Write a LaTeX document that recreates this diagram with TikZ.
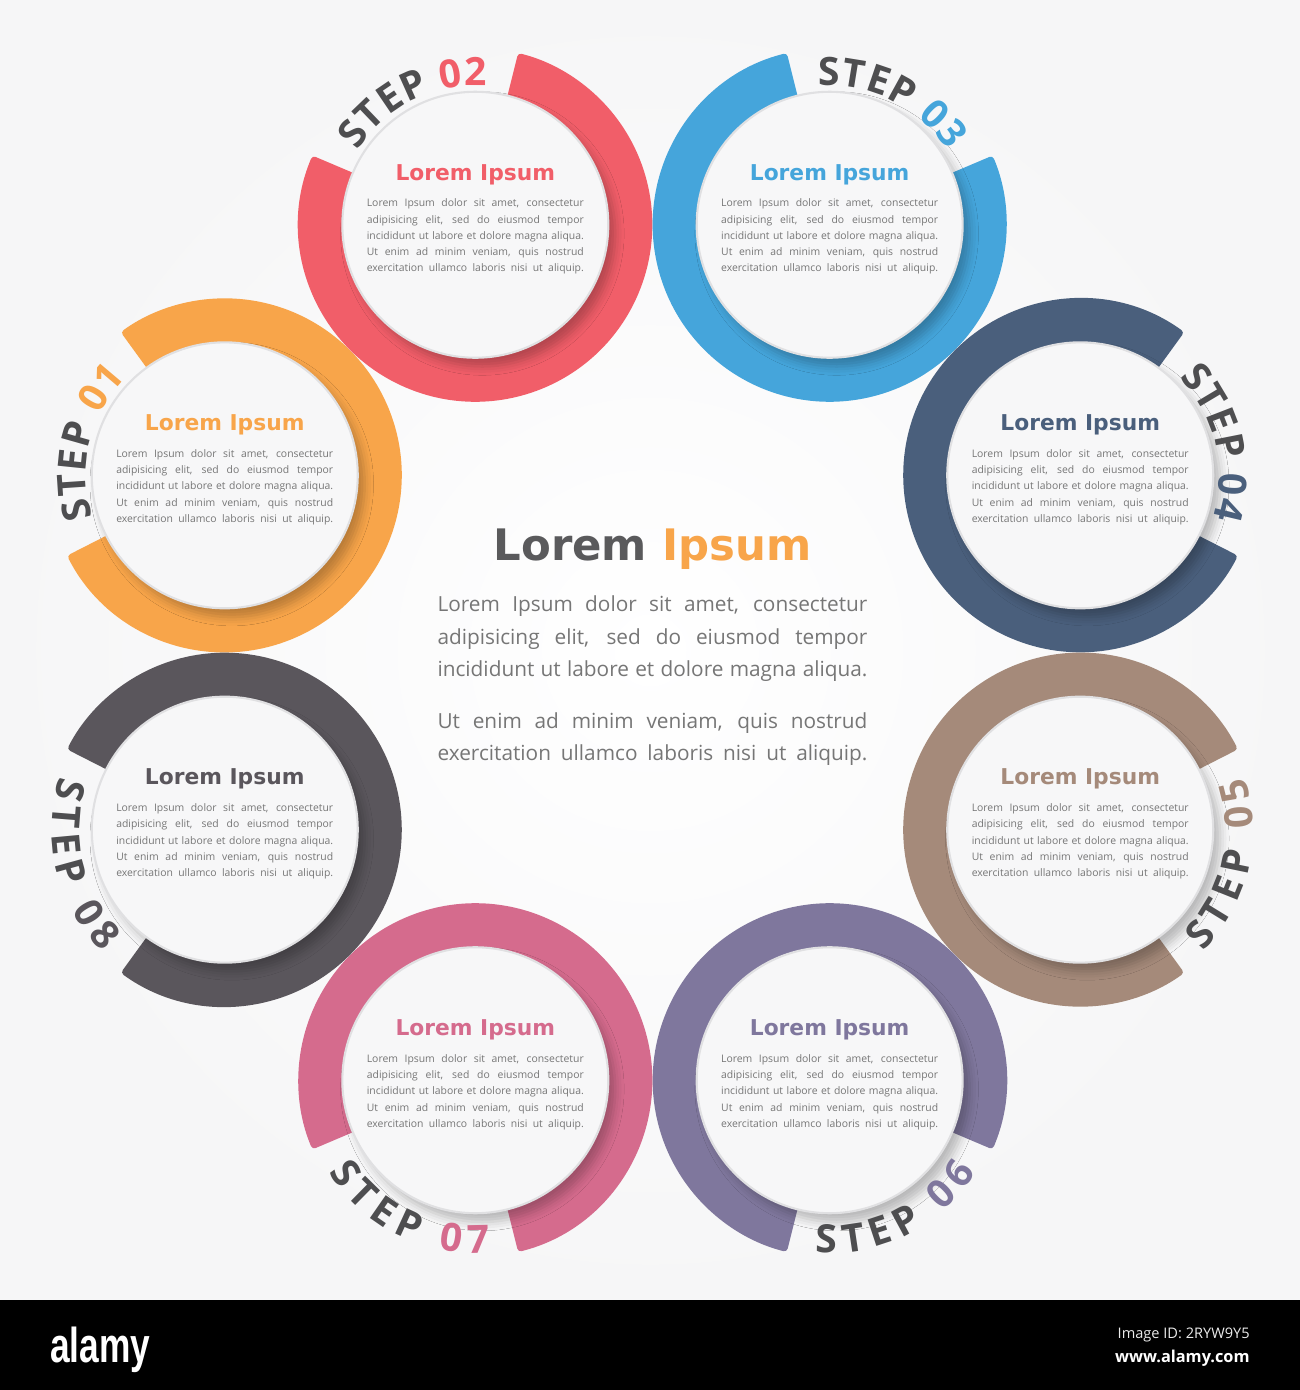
\documentclass[tikz,border=0pt]{standalone}
\usepackage{fontspec}
\setmainfont{Open Sans}
\newfontfamily\headfont{DejaVu Sans}
\newfontfamily\barfont{Liberation Sans}
\usetikzlibrary{calc,positioning,decorations.text,shadows.blur}

\definecolor{c01}{HTML}{F8A54A}
\definecolor{c02}{HTML}{F15E69}
\definecolor{c03}{HTML}{45A5DB}
\definecolor{c04}{HTML}{4A5F7C}
\definecolor{c05}{HTML}{A58A7A}
\definecolor{c06}{HTML}{7F779D}
\definecolor{c07}{HTML}{D56B8D}
\definecolor{c08}{HTML}{5A565C}
\definecolor{stepgray}{HTML}{4E4E50}
\definecolor{bodygray}{HTML}{767676}
\definecolor{darktitle}{HTML}{5A5A5C}
\definecolor{discfill}{HTML}{F7F7F8}
\definecolor{discrim}{HTML}{E0E0E2}
\definecolor{bgcol}{HTML}{F6F6F7}

\newcommand\stepfont{\bfseries\fontsize{22.2}{26}\selectfont}
% one fully justified line
\newcommand\jl[1]{{\parfillskip=0pt\tolerance=10000\hyphenpenalty=10000 #1\par}}
\newcommand\lorem[1]{%
  \jl{Lorem Ipsum dolor sit amet, consectetur}%
  \jl{adipisicing elit, sed do eiusmod tempor}%
  \jl{incididunt ut labore et dolore magna aliqua.}%
  \vspace{#1}%
  \jl{Ut enim ad minim veniam, quis nostrud}%
  \jl{exercitation ullamco laboris nisi ut aliquip.}}

\begin{document}
\begin{tikzpicture}[x=0.02cm, y=0.02cm]

\tikzstyle{disc}=[
    circle,
    minimum size=5.32cm,
    inner sep=0pt,
    fill=discfill,
    draw=discrim,
    line width=1.2pt,
    blur shadow={shadow xshift=4pt, shadow yshift=-5pt, shadow blur radius=5pt, shadow opacity=25}
]

\tikzstyle{title}=[
    font=\headfont\bfseries\fontsize{12.4}{14}\selectfont,
    anchor=base,
    inner sep=0pt
]

\tikzstyle{body}=[
    font=\fontsize{5.92}{9.28}\selectfont,
    text=bodygray,
    text width=4.34cm,
    align=justify,
    anchor=base,
    inner sep=0pt
]

\useasboundingbox (-652.5,-737.5) rectangle (647.5,652.5);
\shade[inner color=white, outer color=bgcol] (-652.5,-647.5) rectangle (647.5,652.5);
\fill[black] (-652.5,-737.5) rectangle (647.5,-647.5);

% eight steps: number / position angle / gap angle / colour / text direction
\foreach \n/\a/\g/\col/\dir in {01/157.5/166.5/c01/1, 02/112.5/116.5/c02/1,
    03/67.5/63.5/c03/1, 04/22.5/13.5/c04/1, 05/-22.5/-13.5/c05/-1,
    06/-67.5/-63.5/c06/-1, 07/-112.5/-116.5/c07/-1, 08/-157.5/-166.5/c08/-1}
{
    \coordinate (c\n) at (\a:463);
    \pgfmathsetmacro\gs{\g+40.5}
    \pgfmathsetmacro\ge{\g+319.5}
    \fill[\col, rounded corners=2pt] ($(c\n)+(\gs:177)$) arc[start angle=\gs, end angle=\ge, radius=177]
        -- ($(c\n)+(\ge:125)$) arc[start angle=\ge, end angle=\gs, radius=125] -- cycle;
    \node[disc] (d\n) at (c\n) {};
    \node[title, text=\col] (t\n) at ($(c\n)+(0,44.7)$) {Lorem Ipsum};
    \node[body] (b\n) at ($(c\n)+(0,18)$) {\lorem{0pt}};
    \pgfmathsetmacro\ts{\g+(\dir)*31.3}
    \pgfmathsetmacro\te{\g-(\dir)*31.3}
    \pgfmathsetmacro\tr{156-(\dir)*17}
    \path[decorate, decoration={text along path, text align={fit to path},
        text/.expanded={|\noexpand\stepfont\noexpand\color{stepgray}|STEP |\noexpand\stepfont\noexpand\color{\col}|\n}}]
        ($(c\n)+(\ts:\tr)$) arc[start angle=\ts, end angle=\te, radius=\tr];
}

\node[font=\headfont\bfseries\fontsize{24.7}{28}\selectfont, anchor=base] (main) at (0,92)
    {\textcolor{darktitle}{Lorem} \textcolor{c01}{Ipsum}};
\node[font=\fontsize{11.84}{18.5}\selectfont, text=bodygray, text width=8.6cm, align=justify, anchor=base, inner sep=0pt]
    (mainbody) at (0,40.8) {\lorem{10.8pt}};

\node[font=\barfont\bfseries\fontsize{27.9}{30}\selectfont, text=white, anchor=base west, xscale=0.72, inner sep=0pt]
    (logo) at (-602.5,-709.5) {alamy};
\node[font=\fontsize{8.3}{10}\selectfont, text=white!92!black, anchor=base east, inner sep=0pt]
    (imgid) at (597.5,-685.5) {Image ID: 2RYW9Y5};
\node[font=\bfseries\fontsize{9.3}{11}\selectfont, text=white, anchor=base east, inner sep=0pt]
    (site) at (597.5,-709.5) {www.alamy.com};

\end{tikzpicture}
\end{document}
